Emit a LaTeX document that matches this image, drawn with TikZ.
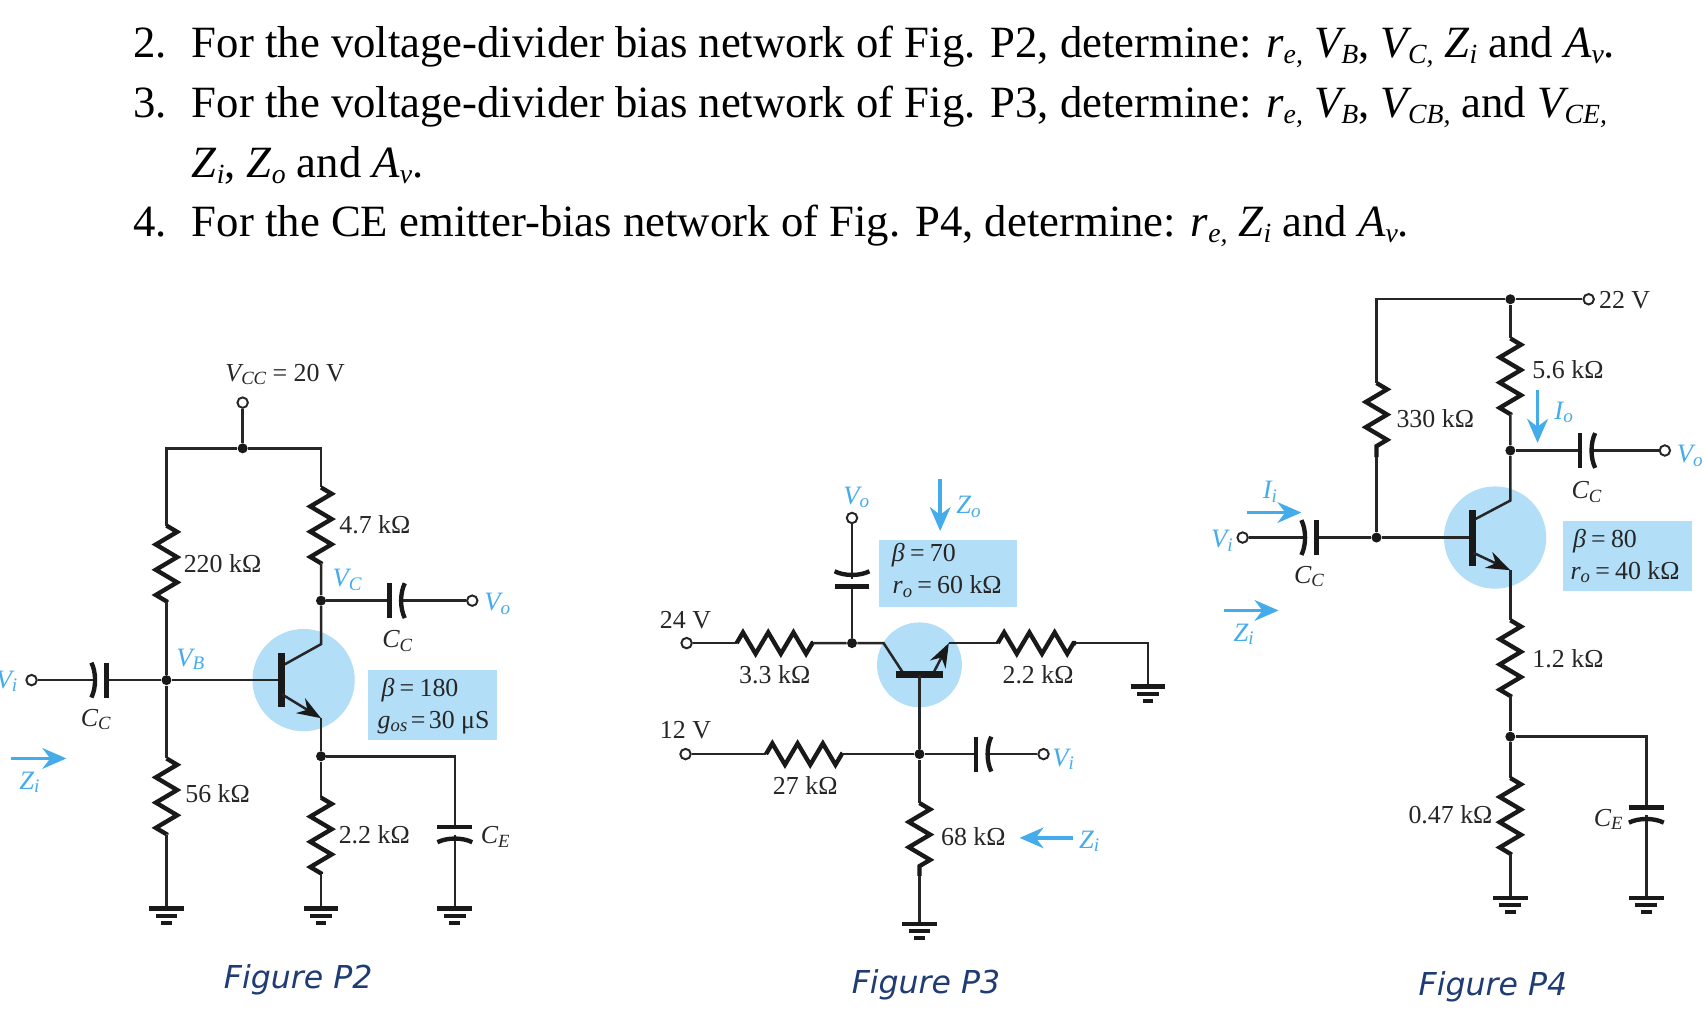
\documentclass[tikz,border=0pt]{standalone}
\usepackage{fontspec}
\setmainfont{Liberation Serif}
\newfontfamily\capfont{DejaVu Sans}
\usetikzlibrary{arrows.meta,decorations.pathmorphing}
\definecolor{wirec}{HTML}{262626}
\definecolor{blueT}{HTML}{45ACEC}
\definecolor{blueF}{HTML}{B3DEF7}
\definecolor{capc}{HTML}{1F3C74}
\newcommand\vs[2]{\textit{#1\raisebox{-.28ex}{\scalebox{.72}{#2}}}}
\newcommand\vh[2]{\textit{#1\raisebox{-.3ex}{\scalebox{.62}{#2}}}}
\newcommand\eqk{\kern2.4pt=\kern2.4pt}
\tikzset{
  wire/.style={draw=wirec,line width=1.15pt},
  res/.style={draw=black!90,line width=2pt,decorate,decoration={zigzag,segment length=11.6pt,amplitude=4.9pt},line join=miter},
  plate/.style={draw=black!90,line width=2pt},
  dotn/.style={circle,fill=black!90,inner sep=0pt,minimum size=4.6pt},
  term/.style={circle,draw=wirec,line width=.9pt,fill=white,inner sep=0pt,minimum size=4.8pt},
  lab/.style={text=black!85,font=\fontsize{11.9}{14}\selectfont,inner sep=0pt},
  blab/.style={text=blueT,font=\fontsize{12.2}{14}\selectfont,inner sep=0pt},
  barrow/.style={draw=blueT,line width=1.7pt,-{Stealth[length=11pt,width=9.5pt]}},
  earrow/.style={wire,-{Stealth[length=11pt,width=8pt,color=black!90]}},
  infobox/.style={fill=blueF,inner sep=0pt},
  hline/.style={font=\fontsize{20.55}{24}\selectfont,inner sep=0pt,anchor=base west,text=black},
  figcap/.style={font=\capfont\itshape\fontsize{14.5}{20}\selectfont,text=capc,inner sep=0pt},
  gndp/.pic={\draw[plate] (-16,0)--(16,0); \draw[plate] (-10,6.5)--(10,6.5); \draw[plate] (-5,13)--(5,13);},
  capp/.pic={\draw[plate] (-5.5,-16)--(-5.5,16); \draw[plate] (8.5,-16) .. controls (4,-7) and (4,7) .. (8.5,16);},
}
\begin{document}
\begin{tikzpicture}[x=0.5pt,y=-0.5pt]
\useasboundingbox (0,0) rectangle (1566,939);
\fill[white] (0,0) rectangle (1566,939);
% ---------- header
\node[hline] (h2n) at (122,53) {2.};
\node[hline] (h2) at (176,53) {For the voltage-divider bias network of Fig. P2, determine: \vh{r}{e,} \vh{V}{B}, \vh{V}{C,} \vh{Z}{i} and \vh{A}{v}.};
\node[hline] (h3n) at (122,108) {3.};
\node[hline] (h3) at (176,108) {For the voltage-divider bias network of Fig. P3, determine: \vh{r}{e,} \vh{V}{B}, \vh{V}{CB,} and \vh{V}{CE,}};
\node[hline] (h3b) at (176,163) {\vh{Z}{i}, \vh{Z}{o} and \vh{A}{v}.};
\node[hline] (h4n) at (122,217) {4.};
\node[hline] (h4) at (176,217) {For the CE emitter-bias network of Fig. P4, determine: \vh{r}{e,} \vh{Z}{i} and \vh{A}{v}.};

% ========== Figure P2
\fill[blueF] (279,625) circle [radius=47];
\node[infobox,minimum width=59.5pt,minimum height=32pt] (a-box) at (397.5,648) {};
\node[lab] (a-t1) at (386,634) {\textit{β}\eqk180};
\node[lab] (a-t2) at (398.5,664) {\vs{g}{os}\kern1.6pt=\kern1.6pt30 μS};
\node[term] (a-vcc) at (223,370) {};
\node[dotn] (a-top) at (223,412) {};
\coordinate (a-tl) at (153,412);
\coordinate (a-tr) at (295,412);
\coordinate (a-r1a) at (153,483); \coordinate (a-r1b) at (153,553);
\node[dotn] (a-b) at (153,625) {};
\coordinate (a-r2a) at (153,697); \coordinate (a-r2b) at (153,767);
\coordinate (a-g1) at (153,835);
\coordinate (a-r3a) at (295,448); \coordinate (a-r3b) at (295,518);
\node[dotn] (a-vc) at (295,552) {};
\coordinate (a-col) at (295,592);
\coordinate (a-barc) at (259,612);
\coordinate (a-bare) at (259,638);
\coordinate (a-barb) at (257,625);
\coordinate (a-bart) at (259,600);
\coordinate (a-barm) at (259,650);
\coordinate (a-em) at (295,660);
\node[dotn] (a-e) at (295,695) {};
\coordinate (a-r4a) at (295,733); \coordinate (a-r4b) at (295,803);
\coordinate (a-g2) at (295,835);
\coordinate (a-ce) at (418,695);
\coordinate (a-cea) at (418,760); \coordinate (a-ceb) at (418,767);
\coordinate (a-g3) at (418,835);
\coordinate (a-c2a) at (358,552); \coordinate (a-c2b) at (368,552);
\node[term] (a-vo) at (434,552) {};
\node[term] (a-vi) at (29,625) {};
\coordinate (a-c1a) at (88,625); \coordinate (a-c1b) at (98,625);
\draw[wire] (a-vcc) -- (a-top);
\draw[wire] (a-r1a) -- (a-tl) -- (a-top) -- (a-tr) -- (a-r3a);
\draw[res] (a-r1a) -- (a-r1b);
\draw[wire] (a-r1b) -- (a-b) -- (a-r2a);
\draw[res] (a-r2a) -- (a-r2b);
\draw[wire] (a-r2b) -- (a-g1);
\draw[res] (a-r3a) -- (a-r3b);
\draw[wire] (a-r3b) -- (a-vc) -- (a-col) -- (a-barc);
\draw[wire] (a-b) -- (a-barb);
\draw[plate,line width=3.2pt] (a-bart) -- (a-barm);
\draw[earrow] (a-bare) -- (a-em);
\draw[wire] (a-em) -- (a-e) -- (a-r4a);
\draw[res] (a-r4a) -- (a-r4b);
\draw[wire] (a-r4b) -- (a-g2);
\draw[wire] (a-e) -- (a-ce) -- (a-cea);
\draw[wire] (a-ceb) -- (a-g3);
\draw[wire] (a-vc) -- (a-c2a); \draw[wire] (a-c2b) -- (a-vo);
\draw[wire] (a-vi) -- (a-c1a); \draw[wire] (a-c1b) -- (a-b);
\pic at (363.5,552) {capp};
\pic[rotate=180] at (92.5,625) {capp};
\pic[rotate=-90] at (418,765.5) {capp};
\pic at (a-g1) {gndp}; \pic at (a-g2) {gndp}; \pic at (a-g3) {gndp};
\node[lab] (a-tvcc) at (262,344) {\vs{V}{CC} = 20 V};
\node[lab] (a-l1) at (204.5,518) {220 kΩ};
\node[lab] (a-l2) at (344.5,482) {4.7 kΩ};
\node[lab] (a-l3) at (200,729) {56 kΩ};
\node[lab] (a-l4) at (344,767) {2.2 kΩ};
\node[lab] (a-l5) at (455,769) {\vs{C}{E}};
\node[lab] (a-l6) at (365,589) {\vs{C}{C}};
\node[lab] (a-l7) at (88,661) {\vs{C}{C}};
\node[blab] (a-b1) at (319,533) {\vs{V}{C}};
\node[blab] (a-b2) at (175,606) {\vs{V}{B}};
\node[blab] (a-b3) at (457,555) {\vs{V}{o}};
\node[blab] (a-b4) at (6,626) {\vs{V}{i}};
\node[blab] (a-b5) at (27,719) {\vs{Z}{i}};
\coordinate (a-zs) at (10,697); \coordinate (a-ze) at (61,697);
\draw[barrow] (a-zs) -- (a-ze);
\node[figcap] (a-fig) at (274,900) {Figure P2};

% ========== Figure P3
\begin{scope}[xshift=-0.5pt]
\fill[blueF] (846,611) circle [radius=39];
\node[infobox,minimum width=63.5pt,minimum height=31pt] (b-box) at (872,527) {};
\node[lab] (b-t1) at (850,510) {\textit{β}\eqk70};
\node[lab] (b-t2) at (871.5,539) {\vs{r}{o}\eqk60 kΩ};
\node[term] (b-24) at (632,591) {};
\coordinate (b-r1a) at (678,591); \coordinate (b-r1b) at (748,591);
\node[dotn] (b-c) at (784,591) {};
\coordinate (b-c1) at (813,591);
\coordinate (b-c2) at (832,620);
\coordinate (b-ca) at (784,539); \coordinate (b-cb) at (784,532);
\node[term] (b-vo) at (784,476) {};
\coordinate (b-bl) at (824,620); \coordinate (b-br) at (868,620);
\coordinate (b-bm) at (846,620);
\coordinate (b-e1) at (858,620); \coordinate (b-e2) at (873,591);
\coordinate (b-r2a) at (918,591); \coordinate (b-r2b) at (990,591);
\coordinate (b-gc) at (1056,591); \coordinate (b-g1) at (1056,631);
\node[dotn] (b-b) at (846,693) {};
\node[term] (b-12) at (631,693) {};
\coordinate (b-r3a) at (705,693); \coordinate (b-r3b) at (775,693);
\coordinate (b-c2a) at (898,693); \coordinate (b-c2b) at (907,693);
\node[term] (b-vi) at (960,693) {};
\coordinate (b-r4a) at (846,738); \coordinate (b-r4b) at (846,805);
\coordinate (b-g2) at (846,849);
\draw[wire] (b-24) -- (b-r1a);
\draw[res] (b-r1a) -- (b-r1b);
\draw[wire] (b-r1b) -- (b-c) -- (b-c1) -- (b-c2);
\draw[wire] (b-c) -- (b-ca); \draw[wire] (b-cb) -- (b-vo);
\draw[earrow] (b-e1) -- (b-e2);
\draw[wire] (b-e2) -- (b-r2a);
\draw[res] (b-r2a) -- (b-r2b);
\draw[wire] (b-r2b) -- (b-gc) -- (b-g1);
\draw[plate,line width=3.2pt] (b-bl) -- (b-br);
\draw[wire] (b-bm) -- (b-b) -- (b-r4a);
\draw[res] (b-r4a) -- (b-r4b);
\draw[wire] (b-r4b) -- (b-g2);
\draw[wire] (b-12) -- (b-r3a);
\draw[res] (b-r3a) -- (b-r3b);
\draw[wire] (b-r3b) -- (b-b) -- (b-c2a);
\draw[wire] (b-c2b) -- (b-vi);
\pic[rotate=90] at (784,533.5) {capp};
\pic at (903.5,693) {capp};
\pic at (b-g1) {gndp}; \pic at (b-g2) {gndp};
\node[lab] (b-l1) at (631,570) {24 V};
\node[lab] (b-l2) at (631,671) {12 V};
\node[lab] (b-l3) at (713,620) {3.3 kΩ};
\node[lab] (b-l4) at (955,620) {2.2 kΩ};
\node[lab] (b-l5) at (741,722) {27 kΩ};
\node[lab] (b-l6) at (895.5,769) {68 kΩ};
\node[blab] (b-b1) at (788,457) {\vs{V}{o}};
\node[blab] (b-b2) at (891,466) {\vs{Z}{o}};
\node[blab] (b-b3) at (978,698) {\vs{V}{i}};
\node[blab] (b-b4) at (1002,773) {\vs{Z}{i}};
\coordinate (b-z1) at (865,440); \coordinate (b-z2) at (865,488);
\draw[barrow] (b-z1) -- (b-z2);
\coordinate (b-z3) at (987,770); \coordinate (b-z4) at (938,770);
\draw[barrow] (b-z3) -- (b-z4);
\node[figcap] (b-fig) at (852,905) {Figure P3};
\end{scope}

% ========== Figure P4
\begin{scope}[xshift=-1pt]
\fill[blueF] (1376,494) circle [radius=47];
\node[infobox,minimum width=59.5pt,minimum height=32pt] (c-box) at (1497.5,511) {};
\node[lab] (c-t1) at (1477,497) {\textit{β}\eqk80};
\node[lab] (c-t2) at (1495.5,526) {\vs{r}{o}\eqk40 kΩ};
\coordinate (c-tl) at (1267,275);
\node[dotn] (c-top) at (1390,275) {};
\node[term] (c-22) at (1462,275) {};
\coordinate (c-r1a) at (1267,352); \coordinate (c-r1b) at (1267,420);
\node[dotn] (c-b) at (1267,494) {};
\coordinate (c-r2a) at (1390,311); \coordinate (c-r2b) at (1390,381);
\node[dotn] (c-vc) at (1390,414) {};
\coordinate (c-col) at (1390,460); \coordinate (c-colb) at (1356,478);
\coordinate (c-bart) at (1355,469); \coordinate (c-barm) at (1355,520);
\coordinate (c-barb) at (1355,494);
\coordinate (c-emb) at (1356,508); \coordinate (c-em) at (1390,524);
\coordinate (c-r3a) at (1390,570); \coordinate (c-r3b) at (1390,640);
\node[dotn] (c-e) at (1390,677) {};
\coordinate (c-r4a) at (1390,715); \coordinate (c-r4b) at (1390,785);
\coordinate (c-g1) at (1390,825);
\coordinate (c-ce) at (1515,677);
\coordinate (c-cea) at (1515,742); \coordinate (c-ceb) at (1515,749);
\coordinate (c-g2) at (1515,825);
\coordinate (c-c2a) at (1454,414); \coordinate (c-c2b) at (1464,414);
\node[term] (c-vo) at (1532,414) {};
\node[term] (c-vi) at (1144,494) {};
\coordinate (c-c1a) at (1201,494); \coordinate (c-c1b) at (1212,494);
\draw[wire] (c-r1a) -- (c-tl) -- (c-top) -- (c-22);
\draw[wire] (c-top) -- (c-r2a);
\draw[res] (c-r1a) -- (c-r1b);
\draw[wire] (c-r1b) -- (c-b);
\draw[res] (c-r2a) -- (c-r2b);
\draw[wire] (c-r2b) -- (c-vc) -- (c-col) -- (c-colb);
\draw[wire] (c-b) -- (c-barb);
\draw[plate,line width=3.2pt] (c-bart) -- (c-barm);
\draw[earrow] (c-emb) -- (c-em);
\draw[wire] (c-em) -- (c-r3a);
\draw[res] (c-r3a) -- (c-r3b);
\draw[wire] (c-r3b) -- (c-e) -- (c-r4a);
\draw[res] (c-r4a) -- (c-r4b);
\draw[wire] (c-r4b) -- (c-g1);
\draw[wire] (c-e) -- (c-ce) -- (c-cea);
\draw[wire] (c-ceb) -- (c-g2);
\draw[wire] (c-vc) -- (c-c2a); \draw[wire] (c-c2b) -- (c-vo);
\draw[wire] (c-vi) -- (c-c1a); \draw[wire] (c-c1b) -- (c-b);
\pic[rotate=180] at (1206.5,494) {capp};
\pic at (1459.5,414) {capp};
\pic[rotate=-90] at (1515,747.5) {capp};
\pic at (c-g1) {gndp}; \pic at (c-g2) {gndp};
\node[lab] (c-l1) at (1495,276) {22 V};
\node[lab] (c-l2) at (1443,340) {5.6 kΩ};
\node[lab] (c-l3) at (1321,385) {330 kΩ};
\node[lab] (c-l4) at (1443,605) {1.2 kΩ};
\node[lab] (c-l5) at (1335,749) {0.47 kΩ};
\node[lab] (c-l6) at (1480,753) {\vs{C}{E}};
\node[lab] (c-l7) at (1460,452) {\vs{C}{C}};
\node[lab] (c-l8) at (1205,530) {\vs{C}{C}};
\node[blab] (c-b1) at (1555,419) {\vs{V}{o}};
\node[blab] (c-b2) at (1439,379) {\vs{I}{o}};
\node[blab] (c-b3) at (1169,452) {\vs{I}{i}};
\node[blab] (c-b4) at (1125,497) {\vs{V}{i}};
\node[blab] (c-b5) at (1145,583) {\vs{Z}{i}};
\coordinate (c-z1) at (1415,358); \coordinate (c-z2) at (1415,407);
\draw[barrow] (c-z1) -- (c-z2);
\coordinate (c-z3) at (1148,471); \coordinate (c-z4) at (1198,471);
\draw[barrow] (c-z3) -- (c-z4);
\coordinate (c-z5) at (1127,561); \coordinate (c-z6) at (1177,561);
\draw[barrow] (c-z5) -- (c-z6);
\node[figcap] (c-fig) at (1374,907) {Figure P4};
\end{scope}
\end{tikzpicture}
\end{document}
